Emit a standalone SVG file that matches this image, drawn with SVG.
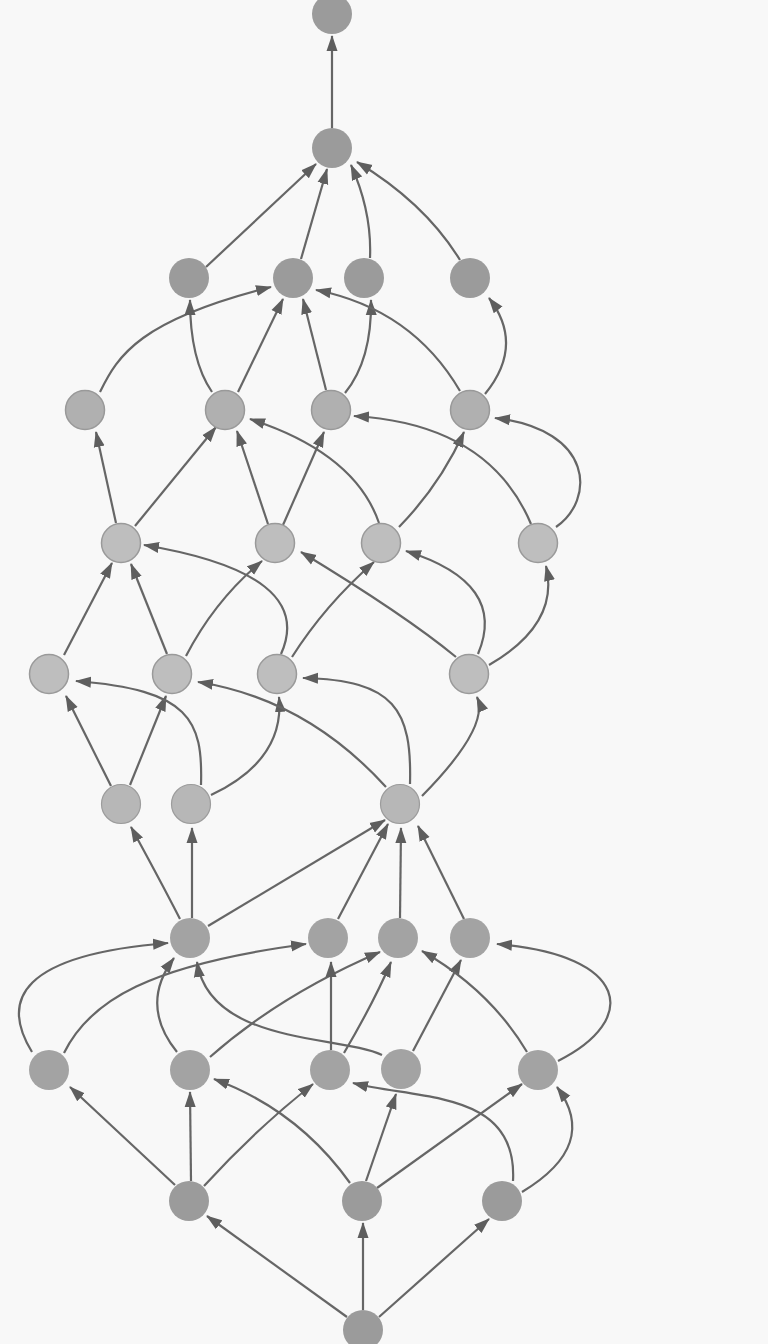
<svg xmlns="http://www.w3.org/2000/svg" width="768" height="1344" viewBox="0 0 768 1344">
<defs>
<marker id="ah" markerUnits="userSpaceOnUse" markerWidth="16" markerHeight="12" refX="15" refY="6" orient="auto">
<path d="M0,0.5 L16,6 L0,11.5 z" fill="#5e5e5e"/>
</marker>
<style>
.e{fill:none;stroke:#666;stroke-width:2.2;marker-end:url(#ah)}
.n1{fill:#9b9b9b}
.n3{fill:#b0b0b0;stroke:#999;stroke-width:1.5}
.n4{fill:#bebebe;stroke:#9a9a9a;stroke-width:1.5}
.n5{fill:#b7b7b7;stroke:#9c9c9c;stroke-width:1.2}
.n6{fill:#a3a3a3}
</style>
</defs>
<rect width="768" height="1344" fill="#f8f8f8"/>
<g id="connectors">
<path class="e" d="M332,128 L332,36"/>
<path class="e" d="M206,267 L316,164"/>
<path class="e" d="M301,259 L327,169"/>
<path class="e" d="M370,258 Q372,212 351,165"/>
<path class="e" d="M460,260 Q425,203 357,162"/>
<path class="e" d="M100,392 C118,355 140,320 271,287"/>
<path class="e" d="M212,392 Q190,360 190,300"/>
<path class="e" d="M238,392 L283,299"/>
<path class="e" d="M326,390 L303,299"/>
<path class="e" d="M345,393 Q372,360 371,300"/>
<path class="e" d="M460,391 Q412,309 316,290"/>
<path class="e" d="M485,394 Q525,345 489,298"/>
<path class="e" d="M116,523 L96,432"/>
<path class="e" d="M135,526 L216,427"/>
<path class="e" d="M268,524 L237,431"/>
<path class="e" d="M283,525 L324,432"/>
<path class="e" d="M379,523 Q355,453 250,419"/>
<path class="e" d="M399,527 Q440,485 464,432"/>
<path class="e" d="M531,524 Q489,424 354,416"/>
<path class="e" d="M556,527 C595,500 595,430 495,418"/>
<path class="e" d="M64,655 L112,563"/>
<path class="e" d="M167,654 L131,564"/>
<path class="e" d="M186,656 Q215,600 262,561"/>
<path class="e" d="M281,654 Q317,574 144,545"/>
<path class="e" d="M292,657 Q325,605 374,562"/>
<path class="e" d="M456,657 Q405,615 301,552"/>
<path class="e" d="M478,654 Q508,583 406,551"/>
<path class="e" d="M489,665 Q560,624 546,566"/>
<path class="e" d="M111,786 L66,696"/>
<path class="e" d="M130,785 L166,696"/>
<path class="e" d="M201,785 C203,720 190,690 76,681"/>
<path class="e" d="M211,795 Q285,760 279,697"/>
<path class="e" d="M386,787 Q306,699 198,682"/>
<path class="e" d="M410,784 C412,710 395,680 303,678"/>
<path class="e" d="M422,796 Q490,727 477,697"/>
<path class="e" d="M180,919 Q160,880 131,827"/>
<path class="e" d="M192,918 L192,828"/>
<path class="e" d="M208,926 L385,820"/>
<path class="e" d="M338,919 L388,824"/>
<path class="e" d="M400,918 L401,828"/>
<path class="e" d="M464,919 L418,826"/>
<path class="e" d="M32,1052 C0,1000 20,955 168,943"/>
<path class="e" d="M64,1053 C90,1000 150,965 306,944"/>
<path class="e" d="M177,1052 Q139,1005 174,958"/>
<path class="e" d="M210,1057 Q280,995 380,952"/>
<path class="e" d="M331,1050 L331,962"/>
<path class="e" d="M344,1053 Q375,1000 391,962"/>
<path class="e" d="M382,1055 C340,1035 210,1045 197,962"/>
<path class="e" d="M413,1051 L461,960"/>
<path class="e" d="M527,1052 Q490,990 422,951"/>
<path class="e" d="M558,1061 C640,1020 630,955 497,944"/>
<path class="e" d="M175,1185 L70,1087"/>
<path class="e" d="M191,1181 L190,1092"/>
<path class="e" d="M204,1186 Q255,1130 313,1084"/>
<path class="e" d="M350,1183 Q298,1110 214,1079"/>
<path class="e" d="M366,1181 L396,1094"/>
<path class="e" d="M377,1188 L522,1084"/>
<path class="e" d="M513,1181 C518,1090 420,1100 353,1083"/>
<path class="e" d="M522,1192 Q600,1145 557,1087"/>
<path class="e" d="M347,1317 L207,1216"/>
<path class="e" d="M363,1310 L363,1223"/>
<path class="e" d="M379,1317 L489,1219"/>
</g>
<g id="A0"><circle class="n1" cx="332" cy="14" r="20"/></g>
<g id="B0"><circle class="n1" cx="332" cy="148" r="20"/></g>
<g id="C0"><circle class="n1" cx="189" cy="278" r="20"/></g>
<g id="C1"><circle class="n1" cx="293" cy="278" r="20"/></g>
<g id="C2"><circle class="n1" cx="364" cy="278" r="20"/></g>
<g id="C3"><circle class="n1" cx="470" cy="278" r="20"/></g>
<g id="D0"><circle class="n3" cx="85" cy="410" r="19.5"/></g>
<g id="D1"><circle class="n3" cx="225" cy="410" r="19.5"/></g>
<g id="D2"><circle class="n3" cx="331" cy="410" r="19.5"/></g>
<g id="D3"><circle class="n3" cx="470" cy="410" r="19.5"/></g>
<g id="E0"><circle class="n4" cx="121" cy="543" r="19.5"/></g>
<g id="E1"><circle class="n4" cx="275" cy="543" r="19.5"/></g>
<g id="E2"><circle class="n4" cx="381" cy="543" r="19.5"/></g>
<g id="E3"><circle class="n4" cx="538" cy="543" r="19.5"/></g>
<g id="F0"><circle class="n4" cx="49" cy="674" r="19.5"/></g>
<g id="F1"><circle class="n4" cx="172" cy="674" r="19.5"/></g>
<g id="F2"><circle class="n4" cx="277" cy="674" r="19.5"/></g>
<g id="F3"><circle class="n4" cx="469" cy="674" r="19.5"/></g>
<g id="G0"><circle class="n5" cx="121" cy="804" r="19.5"/></g>
<g id="G1"><circle class="n5" cx="191" cy="804" r="19.5"/></g>
<g id="G2"><circle class="n5" cx="400" cy="804" r="19.5"/></g>
<g id="H0"><circle class="n6" cx="190" cy="938" r="20"/></g>
<g id="H1"><circle class="n6" cx="328" cy="938" r="20"/></g>
<g id="H2"><circle class="n6" cx="398" cy="938" r="20"/></g>
<g id="H3"><circle class="n6" cx="470" cy="938" r="20"/></g>
<g id="I0"><circle class="n6" cx="49" cy="1070" r="20"/></g>
<g id="I1"><circle class="n6" cx="190" cy="1070" r="20"/></g>
<g id="I2"><circle class="n6" cx="330" cy="1070" r="20"/></g>
<g id="I3"><circle class="n6" cx="401" cy="1069" r="20"/></g>
<g id="I4"><circle class="n6" cx="538" cy="1070" r="20"/></g>
<g id="J0"><circle class="n1" cx="189" cy="1201" r="20"/></g>
<g id="J1"><circle class="n1" cx="362" cy="1201" r="20"/></g>
<g id="J2"><circle class="n1" cx="502" cy="1201" r="20"/></g>
<g id="K0"><circle class="n1" cx="363" cy="1330" r="20"/></g>
</svg>
